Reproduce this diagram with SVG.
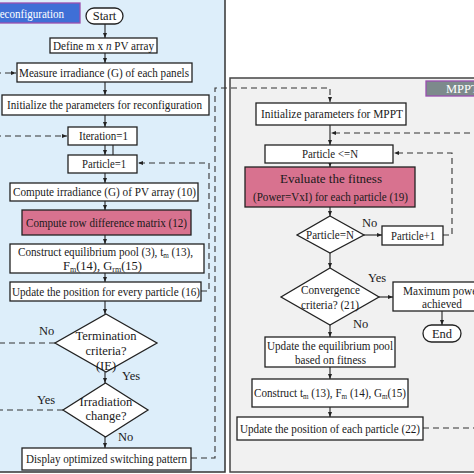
<svg xmlns="http://www.w3.org/2000/svg" width="474" height="474" viewBox="0 0 474 474">
<defs>
<marker id="ah" viewBox="0 0 10 10" refX="10" refY="5" markerWidth="5" markerHeight="5" orient="auto" markerUnits="userSpaceOnUse">
<path d="M0,1 L10,5 L0,9 z" fill="#222"/>
</marker>
<style>
text{font-family:"Liberation Serif","Times New Roman",serif;font-size:12.5px;fill:#1a1a1a;}
.b{fill:#fff;stroke:#222;stroke-width:1.3;}
.p{fill:#d8728f;stroke:#222;stroke-width:1.3;}
.c{fill:none;stroke:#222;stroke-width:1.1;}
.d{fill:none;stroke:#333;stroke-width:1.1;stroke-dasharray:6,4;}
.s{font-size:8px;}
</style>
</defs>
<rect x="0" y="0" width="474" height="474" fill="#fff"/>
<rect x="-3" y="-3" width="228" height="475" fill="#ddeefa" stroke="#333" stroke-width="1.5"/>
<rect x="230" y="78" width="250" height="394" fill="#f1f1f1" stroke="#444" stroke-width="1.5"/>
<g id="title-left">
<rect x="-3" y="3" width="83" height="20" fill="#3f6fd6" stroke="#9a4fb0" stroke-width="1.3"/>
<text x="-4" y="18" textLength="68" lengthAdjust="spacingAndGlyphs" style="fill:#fff">reconfiguration</text>
</g>
<g id="title-right">
<rect x="426" y="81" width="52" height="15" fill="#7d8a8c" stroke="#9a4fb0" stroke-width="1.3"/>
<text x="446" y="93" style="fill:#fff">MPPT</text>
</g>
<g id="connectors">
<path class="c" d="M105,24 V38" marker-end="url(#ah)"/>
<path class="c" d="M105,53 V63" marker-end="url(#ah)"/>
<path class="c" d="M105,82 V95" marker-end="url(#ah)"/>
<path class="c" d="M105,115 V127" marker-end="url(#ah)"/>
<path class="c" d="M105,145 V155" marker-end="url(#ah)"/>
<path class="c" d="M113,145 V155"/>
<path class="c" d="M105,173 V183" marker-end="url(#ah)"/>
<path class="c" d="M105,201 V210" marker-end="url(#ah)"/>
<path class="c" d="M105,235 V244" marker-end="url(#ah)"/>
<path class="c" d="M105,273 V282" marker-end="url(#ah)"/>
<path class="c" d="M105,301 V314" marker-end="url(#ah)"/>
<path class="c" d="M105,372 V383" marker-end="url(#ah)"/>
<path class="c" d="M105,437 V448" marker-end="url(#ah)"/>
<path class="d" d="M201,291 H209 V163 H138" marker-end="url(#ah)"/>
<path class="d" d="M55,343 H-5"/>
<path class="d" d="M-5,136 H67" marker-end="url(#ah)"/>
<path class="d" d="M63,410 H-5"/>
<path class="d" d="M-5,73 H16" marker-end="url(#ah)"/>
<path class="d" d="M191,458 H215 V88 H330 V102" marker-end="url(#ah)"/>
<path class="c" d="M330,125 V145" marker-end="url(#ah)"/>
<path class="d" d="M480,133 H331" marker-end="url(#ah)"/>
<path class="c" d="M330,163 V167" marker-end="url(#ah)"/>
<path class="c" d="M330,207 V216" marker-end="url(#ah)"/>
<path class="c" d="M364,235 H382" marker-end="url(#ah)"/>
<path class="d" d="M443,235 H452 V153 H394" marker-end="url(#ah)"/>
<path class="c" d="M330,253 V268" marker-end="url(#ah)"/>
<path class="c" d="M379,297 H393" marker-end="url(#ah)"/>
<path class="c" d="M442,311 V325" marker-end="url(#ah)"/>
<path class="c" d="M330,325 V337" marker-end="url(#ah)"/>
<path class="c" d="M330,367 V379" marker-end="url(#ah)"/>
<path class="c" d="M330,407 V417" marker-end="url(#ah)"/>
<path class="d" d="M423,428 H480"/>
</g>
<g id="labels">
<text x="39" y="335">No</text>
<text x="122" y="380">Yes</text>
<text x="37" y="404">Yes</text>
<text x="118" y="441">No</text>
<text x="362" y="227">No</text>
<text x="368" y="282">Yes</text>
<text x="353" y="328">No</text>
</g>
<g id="start">
<rect class="b" x="86" y="8" width="37" height="16" rx="8"/>
<text x="104.5" y="20" text-anchor="middle">Start</text>
</g>
<g id="define">
<rect class="b" x="50" y="38" width="107" height="15"/>
<text x="53" y="50" textLength="101" lengthAdjust="spacingAndGlyphs">Define m x <tspan font-style="italic">n</tspan> PV array</text>
</g>
<g id="measure">
<rect class="b" x="17" y="63" width="175" height="19"/>
<text x="19" y="77" textLength="170" lengthAdjust="spacingAndGlyphs">Measure irradiance (G) of each panels</text>
</g>
<g id="init-reconf">
<rect class="b" x="2" y="95" width="207" height="20"/>
<text x="7" y="109" textLength="195" lengthAdjust="spacingAndGlyphs">Initialize the parameters for reconfiguration</text>
</g>
<g id="iteration">
<rect class="b" x="68" y="127" width="69" height="18"/>
<text x="79" y="140" textLength="49" lengthAdjust="spacingAndGlyphs">Iteration=1</text>
</g>
<g id="particle1">
<rect class="b" x="68" y="155" width="69" height="18"/>
<text x="82" y="168" textLength="44" lengthAdjust="spacingAndGlyphs">Particle=1</text>
</g>
<g id="compute-irr">
<rect class="b" x="10" y="183" width="188" height="18"/>
<text x="13" y="196" textLength="183" lengthAdjust="spacingAndGlyphs">Compute irradiance (G) of PV array (10)</text>
</g>
<g id="row-diff">
<rect class="p" x="22" y="210" width="169" height="25"/>
<text x="26" y="227" textLength="161" lengthAdjust="spacingAndGlyphs">Compute row difference matrix (12)</text>
</g>
<g id="construct-left">
<rect class="b" x="10" y="244" width="194" height="29"/>
<text x="18" y="256" textLength="175" lengthAdjust="spacingAndGlyphs">Construct equilibrium pool (3), t<tspan class="s" dy="2">m</tspan><tspan dy="-2"> (13),</tspan></text>
<text x="63" y="270" textLength="79" lengthAdjust="spacingAndGlyphs">F<tspan class="s" dy="2">m</tspan><tspan dy="-2">(14), G</tspan><tspan class="s" dy="2">rm</tspan><tspan dy="-2">(15)</tspan></text>
</g>
<g id="update-left">
<rect class="b" x="10" y="282" width="191" height="19"/>
<text x="12" y="296" textLength="188" lengthAdjust="spacingAndGlyphs">Update the position for every particle  (16)</text>
</g>
<g id="termination">
<polygon class="b" points="106,314 157,343 106,372 55,343"/>
<text x="106" y="340" text-anchor="middle">Termination</text>
<text x="106" y="355" text-anchor="middle">criteria?</text>
<text x="106" y="370" text-anchor="middle">(IE)</text>
</g>
<g id="irradiation">
<polygon class="b" points="105.5,383 148,410 105.5,437 63,410"/>
<text x="106" y="406" text-anchor="middle">Irradiation</text>
<text x="106" y="420" text-anchor="middle">change?</text>
</g>
<g id="display">
<rect class="b" x="22" y="448" width="169" height="22"/>
<text x="26" y="463" textLength="161" lengthAdjust="spacingAndGlyphs">Display optimized switching pattern</text>
</g>
<g id="init-mppt">
<rect class="b" x="256" y="103" width="150" height="22"/>
<text x="261" y="118" textLength="142" lengthAdjust="spacingAndGlyphs">Initialize parameters for MPPT</text>
</g>
<g id="particle-le-n">
<rect class="b" x="265" y="145" width="128" height="18"/>
<text x="302" y="158" textLength="56" lengthAdjust="spacingAndGlyphs">Particle &lt;=N</text>
</g>
<g id="evaluate">
<rect class="p" x="245" y="167" width="170" height="40"/>
<text x="280" y="183" textLength="102" lengthAdjust="spacingAndGlyphs">Evaluate the fitness</text>
<text x="253" y="201" textLength="155" lengthAdjust="spacingAndGlyphs">(Power=VxI) for each particle (19)</text>
</g>
<g id="particle-eq-n">
<polygon class="b" points="330,216 364,235 330,253 297,235"/>
<text x="306" y="239" textLength="48" lengthAdjust="spacingAndGlyphs">Particle=N</text>
</g>
<g id="particle-plus">
<rect class="b" x="382" y="226" width="61" height="19"/>
<text x="391" y="240" textLength="44" lengthAdjust="spacingAndGlyphs">Particle+1</text>
</g>
<g id="convergence">
<polygon class="b" points="330,268 379,297 330,325 281,297"/>
<text x="301" y="294" textLength="59" lengthAdjust="spacingAndGlyphs">Convergence</text>
<text x="301" y="309" textLength="58" lengthAdjust="spacingAndGlyphs">criteria? (21)</text>
</g>
<g id="max-power">
<rect class="b" x="393" y="282" width="90" height="29"/>
<text x="403" y="295" textLength="78" lengthAdjust="spacingAndGlyphs">Maximum power</text>
<text x="422" y="308" textLength="40" lengthAdjust="spacingAndGlyphs">achieved</text>
</g>
<g id="end">
<rect class="b" x="423" y="325" width="38" height="17" rx="8.5"/>
<text x="442" y="338" text-anchor="middle">End</text>
</g>
<g id="update-pool">
<rect class="b" x="265" y="337" width="130" height="30"/>
<text x="267" y="350" textLength="126" lengthAdjust="spacingAndGlyphs">Update the equilibrium pool</text>
<text x="295" y="364" textLength="71" lengthAdjust="spacingAndGlyphs">based on fitness</text>
</g>
<g id="construct-right">
<rect class="b" x="252" y="379" width="156" height="28"/>
<text x="254" y="397" textLength="152" lengthAdjust="spacingAndGlyphs">Construct t<tspan class="s" dy="2">m</tspan><tspan dy="-2"> (13), F</tspan><tspan class="s" dy="2">m</tspan><tspan dy="-2"> (14), G</tspan><tspan class="s" dy="2">m</tspan><tspan dy="-2">(15)</tspan></text>
</g>
<g id="update-right">
<rect class="b" x="237" y="417" width="186" height="23"/>
<text x="240" y="433" textLength="180" lengthAdjust="spacingAndGlyphs">Update the position of each particle (22)</text>
</g>
</svg>
